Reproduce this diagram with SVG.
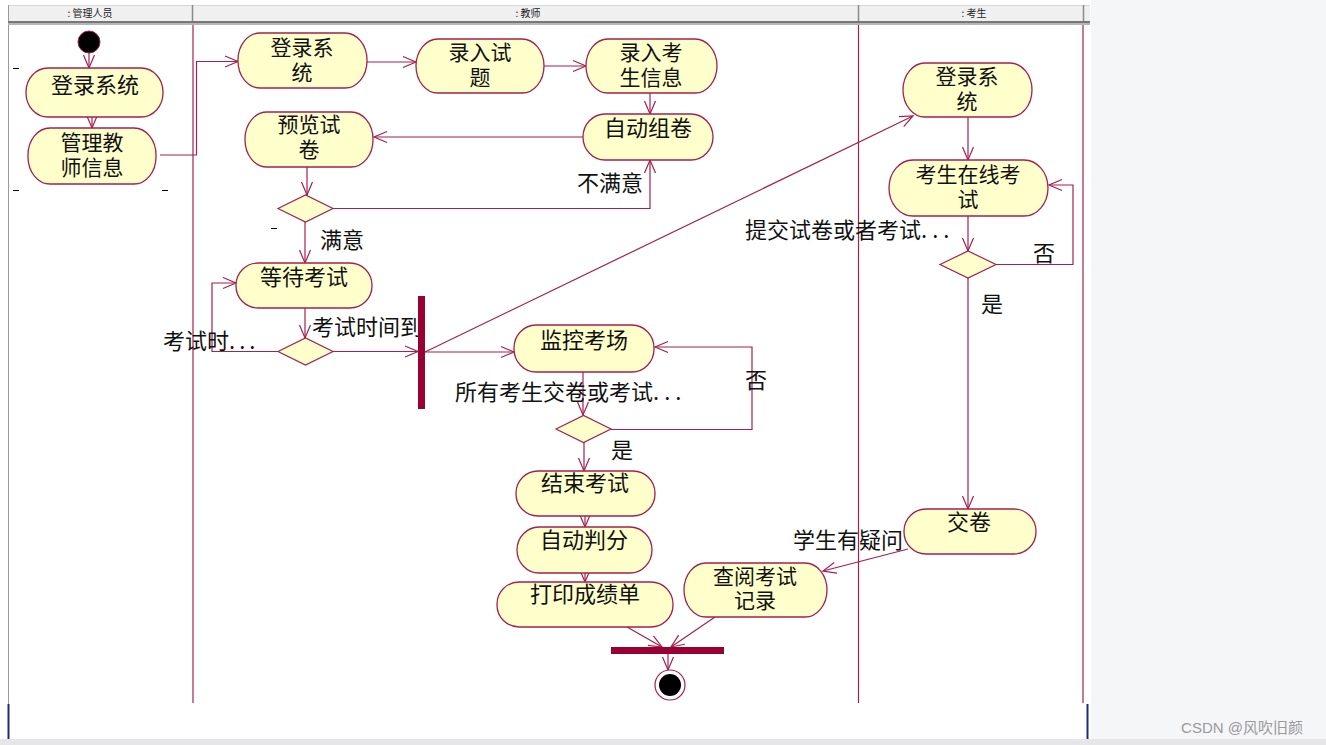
<svg xmlns="http://www.w3.org/2000/svg" width="1326" height="745" viewBox="0 0 1326 745">
<style>
.lane{stroke:#a3204f;stroke-width:1.2}
.hdr{font-family:"Noto Sans CJK SC",sans-serif;font-size:10px;fill:#222;text-anchor:middle}
.n rect{fill:#ffffcc;stroke:#a3204f;stroke-width:1.3}
.n polygon{fill:#ffffcc;stroke:#a3204f;stroke-width:1.2}
.t{font-family:"Noto Sans CJK SC",sans-serif;font-size:22px;fill:#111;text-anchor:middle}
.t2{font-family:"Liberation Sans","Noto Sans CJK SC",sans-serif;font-size:21px;fill:#111;text-anchor:middle}
.l{font-family:"Noto Sans CJK SC",sans-serif;font-size:22px;fill:#111}
.c{fill:none;stroke:#a3204f;stroke-width:1.2;marker-end:url(#a)}
.bar{fill:#990033}
.dash{stroke:#000;stroke-width:1}
</style>
<defs>
<marker id="a" markerUnits="userSpaceOnUse" markerWidth="16" markerHeight="14" refX="14" refY="7" orient="auto">
<path d="M1,1.5 L14,7 L1,12.5" fill="none" stroke="#a3204f" stroke-width="1.2"/>
</marker>
</defs>
<rect x="0" y="0" width="1326" height="745" fill="#ffffff"/>
<rect x="1091" y="0" width="235" height="745" fill="#f5f6f8"/>
<rect x="0" y="739" width="1326" height="6" fill="#e6e6e9"/>
<line x1="1087.5" y1="704" x2="1087.5" y2="739" stroke="#1a2a80" stroke-width="2"/>
<line x1="8.5" y1="704" x2="8.5" y2="739" stroke="#1a2a80" stroke-width="2"/>
<text x="1242" y="733" font-family="Liberation Sans, Noto Sans CJK SC, sans-serif" font-size="15" fill="#9a9a9a" text-anchor="middle">CSDN @风吹旧颜</text>

<g id="header">
<rect x="8" y="5" width="1082" height="16" fill="#f0f0f0"/>
<line x1="8" y1="5.5" x2="1090" y2="5.5" stroke="#d8d8d8"/>
<line x1="8.5" y1="5" x2="8.5" y2="704" stroke="#9a9a9a"/>
<line x1="192.5" y1="5" x2="192.5" y2="21" stroke="#8a8a8a" stroke-width="1.5"/>
<line x1="858.5" y1="5" x2="858.5" y2="21" stroke="#8a8a8a" stroke-width="1.5"/>
<line x1="1083.5" y1="5" x2="1083.5" y2="21" stroke="#8a8a8a" stroke-width="1.5"/>
<rect x="8" y="21" width="1082" height="2" fill="#777"/>
<rect x="8" y="23" width="1082" height="2" fill="#b5b5b5"/>
<text class="hdr" x="90" y="17">: 管理人员</text>
<text class="hdr" x="528" y="17">: 教师</text>
<text class="hdr" x="974" y="17">: 考生</text>
</g>

<g id="lanes">
<line class="lane" x1="193" y1="25" x2="193" y2="703"/>
<line class="lane" x1="858.5" y1="25" x2="858.5" y2="703"/>
<line class="lane" x1="1083" y1="25" x2="1083" y2="703"/>
</g>

<g id="marks">
<line class="dash" x1="13" y1="68.5" x2="19" y2="68.5"/>
<line class="dash" x1="13" y1="190.5" x2="19" y2="190.5"/>
<line class="dash" x1="162" y1="190.5" x2="168" y2="190.5"/>
<line class="dash" x1="271" y1="228.5" x2="277" y2="228.5"/>
</g>

<g id="connectors">
<path class="c" d="M89,53 V68"/>
<path class="c" d="M92,117 V128"/>
<path class="c" d="M160,155 H196.5 V61.5 H238"/>
<path class="c" d="M367,62 H416"/>
<path class="c" d="M544,66 H586"/>
<path class="c" d="M650,93 V114"/>
<path class="c" d="M583,137 H374"/>
<path class="c" d="M307,167 V195"/>
<path class="c" d="M333,208.5 H650 V160"/>
<path class="c" d="M305,222 V263"/>
<path class="c" d="M305,308 V338"/>
<path class="c" d="M278,351.5 H212 V283 H236"/>
<path class="c" d="M333,351.5 H418"/>
<path class="c" d="M425,352 H514"/>
<path class="c" d="M425,352 L913,116"/>
<path class="c" d="M583,372 V415"/>
<path class="c" d="M611,429.5 H752 V347 H655"/>
<path class="c" d="M584,442 V471"/>
<path class="c" d="M585,516 V527"/>
<path class="c" d="M585,573 V582"/>
<path class="c" d="M627,627 L662,647"/>
<path class="c" d="M715,617 L671,647"/>
<path class="c" d="M668,654 V670"/>
<path class="c" d="M968,117 V160"/>
<path class="c" d="M968,216 V251"/>
<path class="c" d="M996,264.5 H1073 V185 H1049"/>
<path class="c" d="M968,277 V509"/>
<path class="c" d="M908,549 L823,571"/>
</g>

<g id="labels">
<text class="l" x="577" y="191">不满意</text>
<text class="l" x="320" y="248">满意</text>
<text class="l" x="312" y="335">考试时间到</text>
<text class="l" x="163" y="349">考试时<tspan letter-spacing="4">...</tspan></text>
<text class="l" x="455" y="400">所有考生交卷或考试<tspan letter-spacing="5">...</tspan></text>
<text class="l" x="745" y="388">否</text>
<text class="l" x="611" y="458">是</text>
<text class="l" x="745" y="238">提交试卷或者考试<tspan letter-spacing="5">...</tspan></text>
<text class="l" x="1033" y="261">否</text>
<text class="l" x="981" y="312">是</text>
<text class="l" x="793" y="548">学生有疑问</text>
</g>

<g id="start"><circle cx="89" cy="42" r="11" fill="#000" stroke="#a3204f" stroke-width="1"/></g>

<g id="m_login" class="n"><rect x="26" y="68" width="137" height="49" rx="22" ry="24"/><text class="t" x="95" y="93">登录系统</text></g>
<g id="m_manage" class="n"><rect x="28" y="128" width="128" height="56" rx="22" ry="27"/><text class="t2" y="150"><tspan x="92">管理教</tspan><tspan x="92" dy="25">师信息</tspan></text></g>

<g id="t_login" class="n"><rect x="238" y="33" width="129" height="55" rx="22" ry="27"/><text class="t2" y="55"><tspan x="302">登录系</tspan><tspan x="302" dy="25">统</tspan></text></g>
<g id="t_input" class="n"><rect x="416" y="39" width="128" height="54" rx="22" ry="27"/><text class="t2" y="60"><tspan x="480">录入试</tspan><tspan x="480" dy="25">题</tspan></text></g>
<g id="t_stu" class="n"><rect x="586" y="39" width="131" height="54" rx="22" ry="27"/><text class="t2" y="60"><tspan x="651">录入考</tspan><tspan x="651" dy="25">生信息</tspan></text></g>
<g id="t_auto" class="n"><rect x="583" y="114" width="130" height="46" rx="22" ry="23"/><text class="t" x="648" y="136">自动组卷</text></g>
<g id="t_preview" class="n"><rect x="245" y="112" width="128" height="55" rx="22" ry="27"/><text class="t2" y="132"><tspan x="309">预览试</tspan><tspan x="309" dy="25">卷</tspan></text></g>
<g id="d1" class="n"><polygon points="278,208.5 305.5,195 333,208.5 305.5,222"/></g>
<g id="t_wait" class="n"><rect x="236" y="263" width="136" height="45" rx="22" ry="22"/><text class="t" x="304" y="285">等待考试</text></g>
<g id="d2" class="n"><polygon points="278,351.5 305.5,338 333,351.5 305.5,365"/></g>
<g id="fork"><rect class="bar" x="418" y="296" width="7" height="113"/></g>
<g id="t_monitor" class="n"><rect x="514" y="325" width="140" height="47" rx="22" ry="23"/><text class="t" x="584" y="348">监控考场</text></g>
<g id="d3" class="n"><polygon points="556,429 583.5,415.5 611,429 583.5,442.5"/></g>
<g id="t_end" class="n"><rect x="516" y="471" width="139" height="45" rx="22" ry="22"/><text class="t" x="585" y="491">结束考试</text></g>
<g id="t_score" class="n"><rect x="517" y="527" width="135" height="46" rx="22" ry="23"/><text class="t" x="584" y="548">自动判分</text></g>
<g id="t_print" class="n"><rect x="497" y="582" width="176" height="45" rx="22" ry="22"/><text class="t" x="585" y="602">打印成绩单</text></g>
<g id="t_view" class="n"><rect x="684" y="563" width="143" height="54" rx="22" ry="27"/><text class="t2" y="584"><tspan x="755">查阅考试</tspan><tspan x="755" dy="24">记录</tspan></text></g>
<g id="join"><rect class="bar" x="611" y="647" width="113" height="7"/></g>
<g id="end"><circle cx="670" cy="685" r="15" fill="#fff" stroke="#a3204f" stroke-width="1.2"/><circle cx="670" cy="685" r="11" fill="#000"/></g>

<g id="s_login" class="n"><rect x="903" y="63" width="129" height="54" rx="22" ry="27"/><text class="t2" y="84"><tspan x="967">登录系</tspan><tspan x="967" dy="25">统</tspan></text></g>
<g id="s_exam" class="n"><rect x="889" y="160" width="159" height="56" rx="24" ry="28"/><text class="t2" y="182"><tspan x="968">考生在线考</tspan><tspan x="968" dy="25">试</tspan></text></g>
<g id="d4" class="n"><polygon points="940,264.5 968,251 996,264.5 968,278"/></g>
<g id="s_submit" class="n"><rect x="904" y="509" width="132" height="45" rx="22" ry="22"/><text class="t" x="969" y="530">交卷</text></g>
</svg>
